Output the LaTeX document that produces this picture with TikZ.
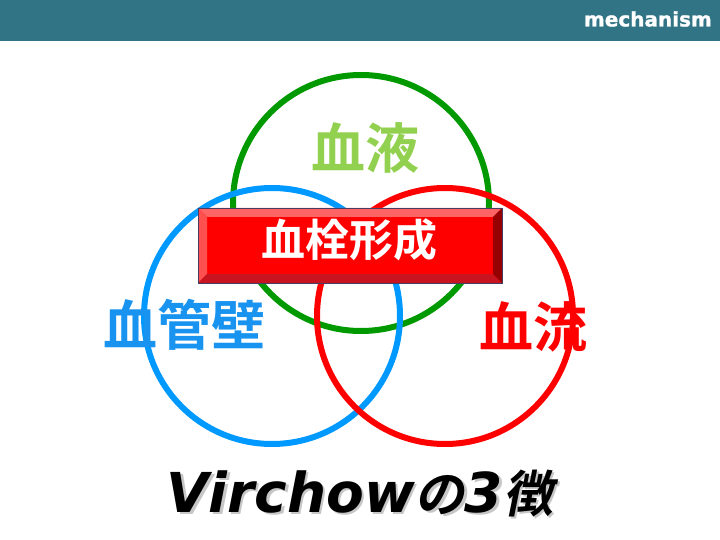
\documentclass[tikz,border=0pt]{standalone}
\usepackage{fontspec}
\usepackage{tikz}
\usetikzlibrary{calc}
\newfontfamily\jpfont{Noto Sans CJK JP Bold}
\newfontfamily\jpslant[FakeSlant=0.2]{Noto Sans CJK JP Bold}
\newfontfamily\menufont[FakeBold=1.2]{DejaVu Sans Bold}
\newfontfamily\titlefont{DejaVu Sans Bold Oblique}
\definecolor{barteal}{RGB}{49,116,133}
\definecolor{ringgreen}{RGB}{0,153,0}
\definecolor{ringblue}{RGB}{0,153,255}
\definecolor{ringred}{RGB}{255,0,0}
\definecolor{labgreen}{RGB}{146,208,80}
\definecolor{labblue}{RGB}{24,148,240}
\definecolor{bevtop}{RGB}{255,100,100}
\definecolor{bevleft}{RGB}{255,80,80}
\definecolor{bevbottom}{RGB}{200,20,30}
\definecolor{bevright}{RGB}{150,0,0}
\definecolor{bevline}{RGB}{70,60,100}

\begin{document}
\begin{tikzpicture}[x=1pt,y=-1pt,
	ring/.style={circle,draw,line width=6pt,minimum size=256pt,inner sep=0pt},
	biglabel/.style={font=\jpfont\fontsize{54}{60}\selectfont,inner sep=0pt}]
			\useasboundingbox(0,0)rectangle(720,540);
			% header bar
			\fill[barteal](0,0)rectangle(720,41);
			\node[text=white,font=\menufont\fontsize{20}{22}\selectfont,anchor=east,inner sep=0pt](menu)at(712,19){mechanism};
			% three rings
			\node[ring,draw=ringgreen](blood)at(361,203){};
			\node[ring,draw=ringblue](wall)at(272,316){};
			\node[ring,draw=ringred](flow)at(445,316){};
			% labels
			\node[biglabel,text=labgreen](bloodlabel)at(365,148){血液};
			\node[biglabel,text=labblue](walllabel)at(184,325){血管壁};
			\node[biglabel,text=ringred](flowlabel)at(533,327){血流};
			% bevelled box
			\node[fill=ringred,minimum width=304pt,minimum height=75pt,inner sep=0pt,outer sep=0pt](clot)at(350,245.5){};
			\coordinate(nwin)at($(clot.north west)+(9,9)$);
			\coordinate(nein)at($(clot.north east)+(-9,9)$);
			\coordinate(swin)at($(clot.south west)+(9,-9)$);
			\coordinate(sein)at($(clot.south east)+(-9,-9)$);
			\fill[bevtop](clot.north west)--(clot.north east)--(nein)--(nwin)--cycle;
			\fill[bevleft](clot.north west)--(nwin)--(swin)--(clot.south west)--cycle;
			\fill[bevbottom](clot.south west)--(swin)--(sein)--(clot.south east)--cycle;
			\fill[bevright](clot.north east)--(clot.south east)--(sein)--(nein)--cycle;
			\draw[bevline,line width=0.8pt](clot.north west)rectangle(clot.south east);
			\node[text=white,font=\jpfont\fontsize{44}{48}\selectfont,inner sep=0pt](clotlabel)at(349,240){血栓形成};
			% title
			\node[anchor=base,text=black!22,inner sep=0pt]at(362.5,514.5){\titlefont\fontsize{55}{60}\selectfont Virchow\jpslant\fontsize{50}{60}\selectfont の\titlefont\fontsize{55}{60}\selectfont 3\jpslant\fontsize{50}{60}\selectfont 徴};
			\node[anchor=base,inner sep=0pt](title)at(360,512){\titlefont\fontsize{55}{60}\selectfont Virchow\jpslant\fontsize{50}{60}\selectfont の\titlefont\fontsize{55}{60}\selectfont 3\jpslant\fontsize{50}{60}\selectfont 徴};
		\end{tikzpicture}
\end{document}
